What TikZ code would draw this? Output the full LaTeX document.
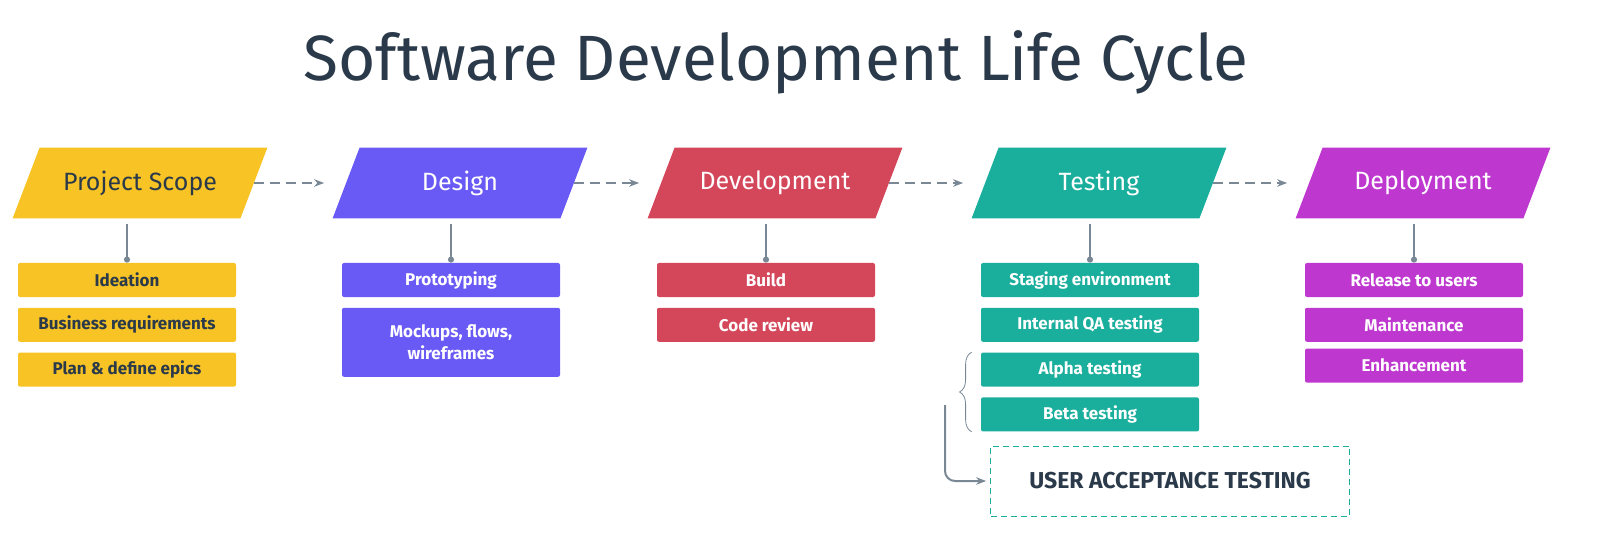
\documentclass[tikz,border=0pt]{standalone}
\usepackage{fontspec}
\setmainfont{Fira Sans}
\usetikzlibrary{arrows.meta,positioning,decorations.pathreplacing}
\definecolor{cscope}{HTML}{F7C325}
\definecolor{cdesign}{HTML}{6A5AF5}
\definecolor{cdev}{HTML}{D4465A}
\definecolor{ctest}{HTML}{1AAE9C}
\definecolor{cdeploy}{HTML}{BE38D0}
\definecolor{cline}{HTML}{7A8795}
\definecolor{ctext}{HTML}{2B3A4A}
\tikzset{
  phase/.style={minimum width=113.5pt, minimum height=35pt, inner sep=0pt, font=\fontsize{12.5}{14}\selectfont},
  step/.style={fill=#1, rounded corners=1pt, minimum width=109pt, minimum height=17pt, inner sep=0pt,
    text=white, font=\bfseries\fontsize{8.5}{11}\selectfont, align=center},
  flow/.style={cline, dashed, dash pattern=on 5pt off 3pt, line width=1pt, -{Stealth[length=5pt]}},
  hang/.style={cline, line width=1pt, -{Circle[length=3pt]}},
}
% parallelogram behind a phase node
\newcommand{\slab}[2]{\fill[#2] ([xshift=-6.75pt]#1.south west) -- ([xshift=6.75pt]#1.north west)
  -- ([xshift=6.75pt]#1.north east) -- ([xshift=-6.75pt]#1.south east) -- cycle;}
\begin{document}
\begin{tikzpicture}[x=0.5pt,y=-0.5pt]
\useasboundingbox (0,0) rectangle (1600,545);
\node[text=ctext, font=\fontsize{32}{36}\selectfont] (title) at (776,62) {Software Development Life Cycle};

\node[phase] (scope) at (140,183) {};
\node[phase] (design) at (460,183) {};
\node[phase] (dev) at (775,183) {};
\node[phase] (test) at (1099,183) {};
\node[phase] (deploy) at (1423,183) {};
\slab{scope}{cscope}
\slab{design}{cdesign}
\slab{dev}{cdev}
\slab{test}{ctest}
\slab{deploy}{cdeploy}
\node[phase, text=ctext] at (scope) {Project Scope};
\node[phase, text=white] at (design) {Design};
\node[phase, text=white] at (dev) {Development};
\node[phase, text=white] at (test) {Testing};
\node[phase, text=white] at (deploy) {Deployment};

\draw[flow, shorten >=11pt] (scope.east) -- (design.west);
\draw[flow, shorten >=11pt] (design.east) -- (dev.west);
\draw[flow, shorten >=11pt] (dev.east) -- (test.west);
\draw[flow, shorten >=11pt] (test.east) -- (deploy.west);

% scope
\node[step=cscope, text=ctext] (s1) at (127,280) {Ideation};
\node[step=cscope, text=ctext, below=5pt of s1] (s2) {Business requirements};
\node[step=cscope, text=ctext, below=5pt of s2] (s3) {Plan \& define epics};
% design
\node[step=cdesign] (d1) at (451,280) {Prototyping};
\node[step=cdesign, minimum height=34.5pt, below=5pt of d1] (d2) {Mockups, flows,\\wireframes};
% development
\node[step=cdev] (v1) at (766,280) {Build};
\node[step=cdev, below=5pt of v1] (v2) {Code review};
% testing
\node[step=ctest] (t1) at (1090,280) {Staging environment};
\node[step=ctest, below=5pt of t1] (t2) {Internal QA testing};
\node[step=ctest, below=5pt of t2] (t3) {Alpha testing};
\node[step=ctest, below=5pt of t3] (t4) {Beta testing};
% deployment
\node[step=cdeploy] (e1) at (1414,280) {Release to users};
\node[step=cdeploy, below=5pt of e1] (e2) {Maintenance};
\node[step=cdeploy, below=3pt of e2] (e3) {Enhancement};

\draw[hang, shorten <=3pt] (s1.north |- scope.south) -- (s1.north);
\draw[hang, shorten <=3pt] (d1.north |- design.south) -- (d1.north);
\draw[hang, shorten <=3pt] (v1.north |- dev.south) -- (v1.north);
\draw[hang, shorten <=3pt] (t1.north |- test.south) -- (t1.north);
\draw[hang, shorten <=3pt] (e1.north |- deploy.south) -- (e1.north);

\draw[cline, decorate, decoration={brace, amplitude=6pt}] ([xshift=-4.5pt]t4.south west) -- ([xshift=-4.5pt]t3.north west);

\node[draw=ctest, dashed, dash pattern=on 3pt off 2pt, minimum width=179.5pt, minimum height=35pt,
  text=ctext, font=\bfseries\fontsize{11.5}{14}\selectfont] (uat) at (1170,481) {USER ACCEPTANCE TESTING};
\coordinate (fork) at (945,405);
\draw[cline, line width=1pt, rounded corners=5pt, -{Stealth[length=5pt]}, shorten >=2pt]
  (fork) |- (uat.west);
\end{tikzpicture}
\end{document}
